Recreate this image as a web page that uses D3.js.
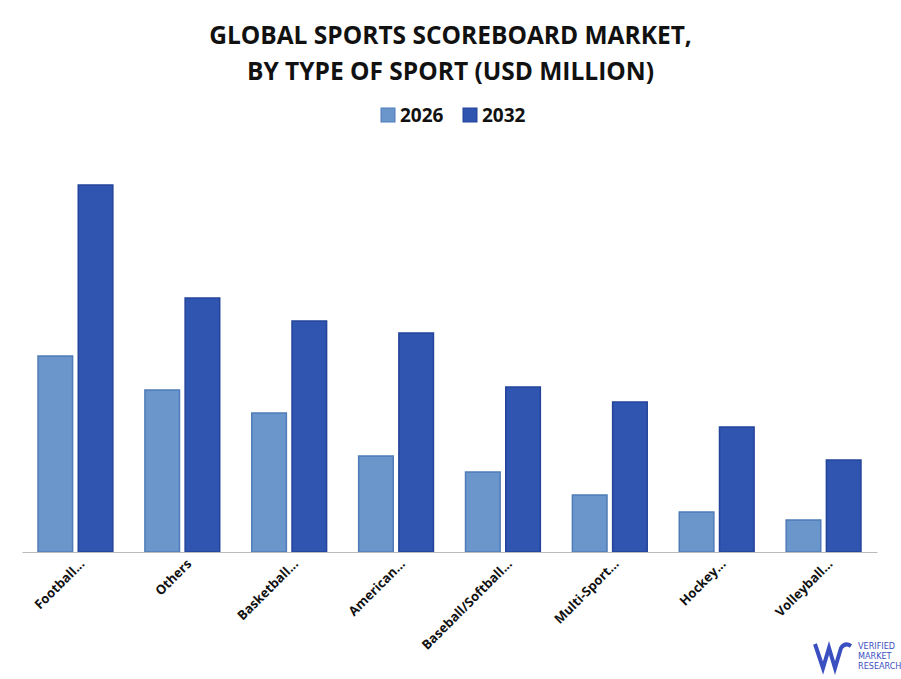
<!DOCTYPE html>
<html><head><meta charset="utf-8">
<script src="https://cdn.jsdelivr.net/npm/d3@7"></script>
<style>
body{margin:0;background:#fff;font-family:"Open Sans","Liberation Sans",sans-serif;}
</style></head>
<body><div id="chart"></div>
<script>
var categories = ["Football...", "Others", "Basketball...", "American...", "Baseball/Softball...", "Multi-Sport...", "Hockey...", "Volleyball..."];
var series2026 = [196, 162, 139, 96, 80, 57, 40, 32];
var series2032 = [367, 254, 231, 219, 165, 150, 125, 92];
var years = ["2026", "2032"];
var colors = { "2026": "#6a96cc", "2032": "#2f55b0" };
var strokes = { "2026": "#4f7cb8", "2032": "#23449a" };

var W = 901, H = 679;
var margin = { top: 152, right: 24, bottom: 127, left: 22 };
var width = W - margin.left - margin.right;
var height = H - margin.top - margin.bottom;

var svg = d3.select("#chart").append("svg").attr("width", W).attr("height", H);

// Title
svg.append("text").attr("x", W / 2).attr("y", 44).attr("text-anchor", "middle")
    .attr("font-size", "24.5px").attr("font-weight", "bold").attr("fill", "#111")
    .text("GLOBAL SPORTS SCOREBOARD MARKET,");
svg.append("text").attr("x", W / 2).attr("y", 80).attr("text-anchor", "middle")
    .attr("font-size", "24.5px").attr("font-weight", "bold").attr("fill", "#111")
    .text("BY TYPE OF SPORT (USD MILLION)");

// Legend
var legend = svg.append("g");
[{ k: "2026", x: 381 }, { k: "2032", x: 463 }].forEach(function (d) {
    legend.append("rect").attr("x", d.x).attr("y", 108).attr("width", 14).attr("height", 14)
        .attr("fill", colors[d.k]).attr("stroke", strokes[d.k]);
    legend.append("text").attr("x", d.x + 19).attr("y", 122).attr("font-size", "19px")
        .attr("font-weight", "bold").attr("fill", "#111").text(d.k);
});

var g = svg.append("g").attr("transform", "translate(" + margin.left + "," + margin.top + ")");

var x0 = d3.scaleBand().domain(categories).range([0, width]).paddingInner(0.3).paddingOuter(0.15);
var x1 = d3.scaleBand().domain(years).range([0, x0.bandwidth()]).paddingInner(0.14);
var y = d3.scaleLinear().domain([0, 400]).range([height, 0]);

var data = categories.map(function (c, i) {
    return { cat: c, vals: [{ k: "2026", v: series2026[i] }, { k: "2032", v: series2032[i] }] };
});

var groups = g.selectAll(".grp").data(data).enter().append("g")
    .attr("transform", function (d) { return "translate(" + x0(d.cat) + ",0)"; });
groups.selectAll("rect").data(function (d) { return d.vals; }).enter().append("rect")
    .attr("x", function (d) { return x1(d.k); })
    .attr("y", function (d) { return y(d.v); })
    .attr("width", x1.bandwidth())
    .attr("height", function (d) { return height - y(d.v); })
    .attr("fill", function (d) { return colors[d.k]; })
    .attr("stroke", function (d) { return strokes[d.k]; })
    .attr("stroke-width", 1.5);

// X axis
var xAxis = g.append("g").attr("transform", "translate(0," + height + ")")
    .call(d3.axisBottom(x0).tickSize(0).tickPadding(10));
xAxis.select(".domain").attr("stroke", "#bbb");
xAxis.selectAll("text").attr("font-size", "13px").attr("font-weight", "bold")
    .attr("fill", "#111").attr("font-family", "'Open Sans',sans-serif")
    .attr("text-anchor", "end").attr("dx", "-2px").attr("dy", "6px")
    .attr("transform", "rotate(-45)");

// Logo
var logo = svg.append("g").attr("transform", "translate(815,640)");
logo.append("path").attr("d", "M0,4 L8,28 L14,8 L20,28 L26,8 Q30,2 36,6")
    .attr("fill", "none").attr("stroke", "#3a4fc0").attr("stroke-width", 4);
["VERIFIED", "MARKET", "RESEARCH"].forEach(function (t, i) {
    logo.append("text").attr("x", 43).attr("y", 9 + i * 10).attr("font-size", "9px")
        .attr("fill", "#3a4fc0").attr("font-family", "'DejaVu Sans Condensed',sans-serif").text(t);
});
</script></body></html>
